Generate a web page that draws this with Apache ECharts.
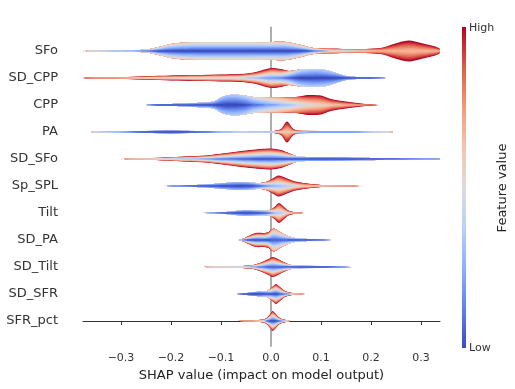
<!DOCTYPE html>
<html><head><meta charset="utf-8">
<script src="https://cdn.jsdelivr.net/npm/echarts@6/dist/echarts.min.js"></script>
<style>html,body{margin:0;padding:0;background:#fff}#c{width:515px;height:389px}</style>
</head><body><div id="c"></div>
<script>
// Feature names, top to bottom
const features = ['SFo','SD_CPP','CPP','PA','SD_SFo','Sp_SPL','Tilt','SD_PA','SD_Tilt','SD_SFR','SFR_pct'];
const xTicks = [-0.3,-0.2,-0.1,0.0,0.1,0.2,0.3];
const colorbarLabels = ['High','Low'];
// Violin profiles: [SHAP value, density half-width, lowest feature value present (0-1), highest feature value present (0-1)]
const SFo = [[-0.376,0,0.35,0.6],[-0.36,0.6,0.35,0.6],[-0.30,0.8,0.2,0.6],[-0.25,1.5,0.1,0.6],[-0.22,4.5,0,0.6],[-0.20,7,0,0.6],[-0.17,8.5,0,0.6],[-0.12,9,0,0.6],[-0.05,9,0,0.6],[0.00,9,0,0.62],[0.03,9,0,0.62],[0.06,6,0,0.65],[0.085,3,0.1,0.7],[0.12,2.2,0.5,0.8],[0.18,2,0.6,0.85],[0.22,3,0.65,0.95],[0.245,7,0.65,1],[0.275,10.5,0.65,1],[0.30,8,0.65,1],[0.325,5,0.65,1],[0.338,2,0.65,1]];
const SD_CPP = [[-0.376,0,0.6,0.95],[-0.36,0.8,0.6,0.95],[-0.30,1,0.55,1],[-0.25,1.8,0.5,1],[-0.20,2.5,0.5,1],[-0.15,3,0.45,1],[-0.10,3.5,0.45,1],[-0.06,4,0.4,1],[-0.03,6,0.3,1],[0.00,10,0.2,1],[0.02,9,0.15,1],[0.037,7,0.05,0.7],[0.06,8.5,0,0.45],[0.085,9,0,0.4],[0.11,8,0,0.4],[0.13,5,0,0.35],[0.15,2,0,0.3],[0.17,1,0,0.25],[0.20,0.7,0,0.25],[0.23,0,0,0.3]];
const CPP = [[-0.25,0,0,0.2],[-0.22,0.8,0,0.2],[-0.18,1.2,0,0.25],[-0.14,2.2,0,0.3],[-0.115,3.5,0,0.35],[-0.095,8.5,0,0.35],[-0.075,10.5,0,0.38],[-0.055,9.5,0.02,0.4],[-0.035,8,0.1,0.5],[-0.01,7.5,0.2,0.6],[0.02,7.5,0.3,0.7],[0.05,8,0.4,0.85],[0.075,10,0.5,1],[0.10,9.5,0.55,1],[0.12,6,0.6,1],[0.15,3.5,0.65,1],[0.18,1.5,0.7,1],[0.20,0.6,0.7,0.95],[0.215,0,0.7,0.9]];
const PA = [[-0.36,0,0.4,0.6],[-0.35,0.7,0.35,0.6],[-0.30,0.8,0.2,0.5],[-0.25,1,0,0.25],[-0.20,1.2,0,0.15],[-0.15,1,0,0.3],[-0.10,1,0.2,0.55],[-0.05,0.9,0.3,0.6],[-0.01,0.9,0.25,0.6],[0.005,1,0.3,0.7],[0.02,3,0.55,1],[0.032,10.5,0.6,1],[0.045,3,0.55,1],[0.06,1.2,0.2,0.6],[0.10,1,0.15,0.35],[0.15,1,0.15,0.35],[0.20,0.8,0.3,0.5],[0.235,0.6,0.4,0.6],[0.245,0,0.4,0.6]];
const SD_SFo = [[-0.30,0,0.5,0.8],[-0.28,0.6,0.5,0.8],[-0.25,0.8,0.45,0.85],[-0.21,1.5,0.4,0.9],[-0.17,2.5,0.3,0.95],[-0.13,3.5,0.2,1],[-0.09,6,0.1,1],[-0.05,8.5,0.05,1],[-0.02,10,0.03,1],[0.00,10.5,0.03,1],[0.02,9,0.03,1],[0.035,6,0.02,0.9],[0.05,3,0,0.5],[0.07,2,0,0.35],[0.10,2,0,0.3],[0.14,1.8,0,0.3],[0.18,1.3,0,0.3],[0.22,1,0,0.3],[0.26,0.8,0,0.35],[0.30,0.7,0.05,0.45],[0.338,0.6,0.1,0.5]];
const Sp_SPL = [[-0.215,0,0.05,0.3],[-0.19,0.6,0.05,0.3],[-0.15,1,0,0.3],[-0.115,2,0,0.3],[-0.09,3,0,0.3],[-0.07,4,0,0.32],[-0.045,3.8,0,0.35],[-0.025,2.8,0.05,0.45],[-0.01,4,0.15,0.8],[0.005,8,0.25,1],[0.015,10.5,0.3,1],[0.03,8,0.35,1],[0.045,5,0.4,1],[0.06,3.5,0.5,1],[0.08,2,0.55,0.95],[0.10,1,0.55,0.85],[0.14,0.5,0.55,0.8],[0.19,0,0.5,0.7]];
const Tilt = [[-0.135,0,0.1,0.4],[-0.12,0.5,0.1,0.4],[-0.09,1,0,0.3],[-0.07,2,0,0.3],[-0.05,2.8,0,0.3],[-0.03,2.5,0,0.35],[-0.01,2.3,0.05,0.45],[0.0,3.5,0.15,0.8],[0.008,6.5,0.3,1],[0.016,10,0.35,1],[0.025,6.5,0.4,1],[0.035,2.5,0.5,1],[0.045,1,0.6,0.9],[0.055,0.5,0.6,0.8],[0.065,0,0.6,0.8]];
const SD_PA = [[-0.065,0,0.2,0.6],[-0.055,1.5,0.1,0.9],[-0.045,4,0,1],[-0.03,7,0,1],[-0.015,7,0,1],[-0.005,8,0,0.95],[0.005,11.5,0.05,0.75],[0.015,9,0.05,0.7],[0.025,6,0.05,0.65],[0.04,3,0,0.55],[0.055,1.5,0,0.35],[0.08,1,0,0.3],[0.10,0.7,0,0.35],[0.12,0,0.1,0.4]];
const SD_Tilt = [[-0.135,0,0.4,0.7],[-0.12,0.5,0.4,0.7],[-0.08,0.7,0.35,0.7],[-0.05,1.2,0.3,0.8],[-0.035,2,0.2,0.9],[-0.02,4.5,0.1,0.95],[-0.005,8,0.05,1],[0.003,10,0.05,1],[0.012,8.5,0.05,1],[0.025,5,0.03,0.95],[0.04,2,0,0.6],[0.055,1.2,0,0.3],[0.10,1,0,0.25],[0.14,0.6,0.05,0.35],[0.16,0,0.1,0.4]];
const SD_SFR = [[-0.068,0,0,0.3],[-0.055,0.7,0,0.25],[-0.04,1.5,0,0.2],[-0.025,2.2,0,0.25],[-0.012,2.5,0,0.35],[-0.003,4.5,0,0.7],[0.005,8,0,0.95],[0.01,10,0,1],[0.018,7,0.05,1],[0.028,3,0.1,1],[0.04,1.2,0.4,0.95],[0.055,0.6,0.5,0.85],[0.068,0,0.5,0.8]];
const SFR_pct = [[-0.068,0,0.55,0.85],[-0.05,0.5,0.55,0.85],[-0.025,1,0.5,0.9],[-0.012,2,0.3,0.95],[-0.006,4.5,0.05,1],[0.0,8,0,1],[0.003,10,0,1],[0.008,8,0,1],[0.015,4,0.05,1],[0.022,2,0.2,0.95],[0.03,1,0.4,0.9],[0.038,0,0.5,0.8]];
const profiles = [SFo, SD_CPP, CPP, PA, SD_SFo, Sp_SPL, Tilt, SD_PA, SD_Tilt, SD_SFR, SFR_pct];

const DENSITY_SCALE = 27;   // density units per row
const LAYERS = 20;
const coolwarm = [[0,'#3b4cc0'],[0.125,'#6282ea'],[0.25,'#8db0fe'],[0.375,'#b9d0f9'],[0.5,'#dddcdc'],[0.625,'#f5c4ac'],[0.75,'#f49a7b'],[0.875,'#dc5d4a'],[1,'#b40426']];
function hex2rgb(h){return [parseInt(h.slice(1,3),16),parseInt(h.slice(3,5),16),parseInt(h.slice(5,7),16)];}
function cmap(t){
  t=Math.max(0,Math.min(1,t));
  for(let i=0;i<coolwarm.length-1;i++){
    const a=coolwarm[i],b=coolwarm[i+1];
    if(t<=b[0]){const f=(t-a[0])/(b[0]-a[0]);const ca=hex2rgb(a[1]),cb=hex2rgb(b[1]);
      return 'rgb('+ca.map((v,j)=>Math.round(v+(cb[j]-v)*f)).join(',')+')';}
  }
  return coolwarm[coolwarm.length-1][1];
}
function share(pt,k){
  const edge=(k+1)/LAYERS, lo=pt[2], hi=pt[3];
  if(hi<=lo) return edge>=lo?1:0;
  return Math.max(0,Math.min(1,(edge-lo)/(hi-lo)));
}
const items=[];
features.forEach((f,fi)=>{for(let k=LAYERS-1;k>=0;k--) items.push([fi,k]);});

const chart = echarts.init(document.getElementById('c'), null, {renderer:'canvas'});
const FONT='DejaVu Sans';
chart.setOption({
  animation:false,
  grid:{left:83,right:75,top:24,bottom:41},
  xAxis:{type:'value',min:-0.376,max:0.338,
    axisLine:{show:true,lineStyle:{color:'#333',width:1}},
    axisTick:{show:true,customValues:xTicks,length:4,lineStyle:{color:'#333'}},
    axisLabel:{customValues:xTicks,color:'#333',fontSize:11,fontFamily:FONT,margin:5,
      formatter:v=>(v<-1e-9?'\u2212':'')+Math.abs(v).toFixed(1)},
    splitLine:{show:false},
    name:'SHAP value (impact on model output)',nameLocation:'middle',nameGap:20,
    nameTextStyle:{color:'#222',fontSize:13,fontFamily:FONT}},
  yAxis:{type:'value',min:-1,max:11,interval:1,
    axisLine:{show:false},axisTick:{show:false},splitLine:{show:false},
    axisLabel:{color:'#333',fontSize:13,fontFamily:FONT,margin:25,
      formatter:v=>(v>=0&&v<=10)?features[10-v]:''}},
  graphic:[
    {type:'rect',left:462,top:27,shape:{width:4,height:321},
     style:{fill:new echarts.graphic.LinearGradient(0,0,0,1,coolwarm.map(c=>({offset:1-c[0],color:c[1]})).reverse())}},
    {type:'text',x:469,y:28,style:{text:colorbarLabels[0],fill:'#333',font:'11px '+FONT,textVerticalAlign:'middle'}},
    {type:'text',x:469,y:348,style:{text:colorbarLabels[1],fill:'#333',font:'11px '+FONT,textVerticalAlign:'middle'}},
    {type:'text',x:503,y:188,rotation:Math.PI/2,style:{text:'Feature value',fill:'#222',font:'13px '+FONT,textAlign:'center',textVerticalAlign:'middle'}}
  ],
  series:[
    {type:'line',data:[[0,-0.95],[0,10.9]],symbol:'none',silent:true,z:1,
     lineStyle:{color:'#999',width:1.6}},
    {type:'custom',z:2,clip:true,silent:true,data:items,
     renderItem:(params,api)=>{
       const fi=api.value(0),k=api.value(1);
       const prof=profiles[fi],row=features.length-1-fi;
       const up=[],dn=[];
       prof.forEach(pt=>{
         const h=pt[1]*share(pt,k)/DENSITY_SCALE;
         up.push(api.coord([pt[0],row+h]));
         dn.push(api.coord([pt[0],row-h]));
       });
       const pts=up.concat(dn.reverse());
       const c=cmap(k/(LAYERS-1));
       return {type:'polygon',shape:{points:pts,smooth:0.3},style:{fill:c,stroke:null,lineWidth:0}};
     }}
  ]
});
</script></body></html>
